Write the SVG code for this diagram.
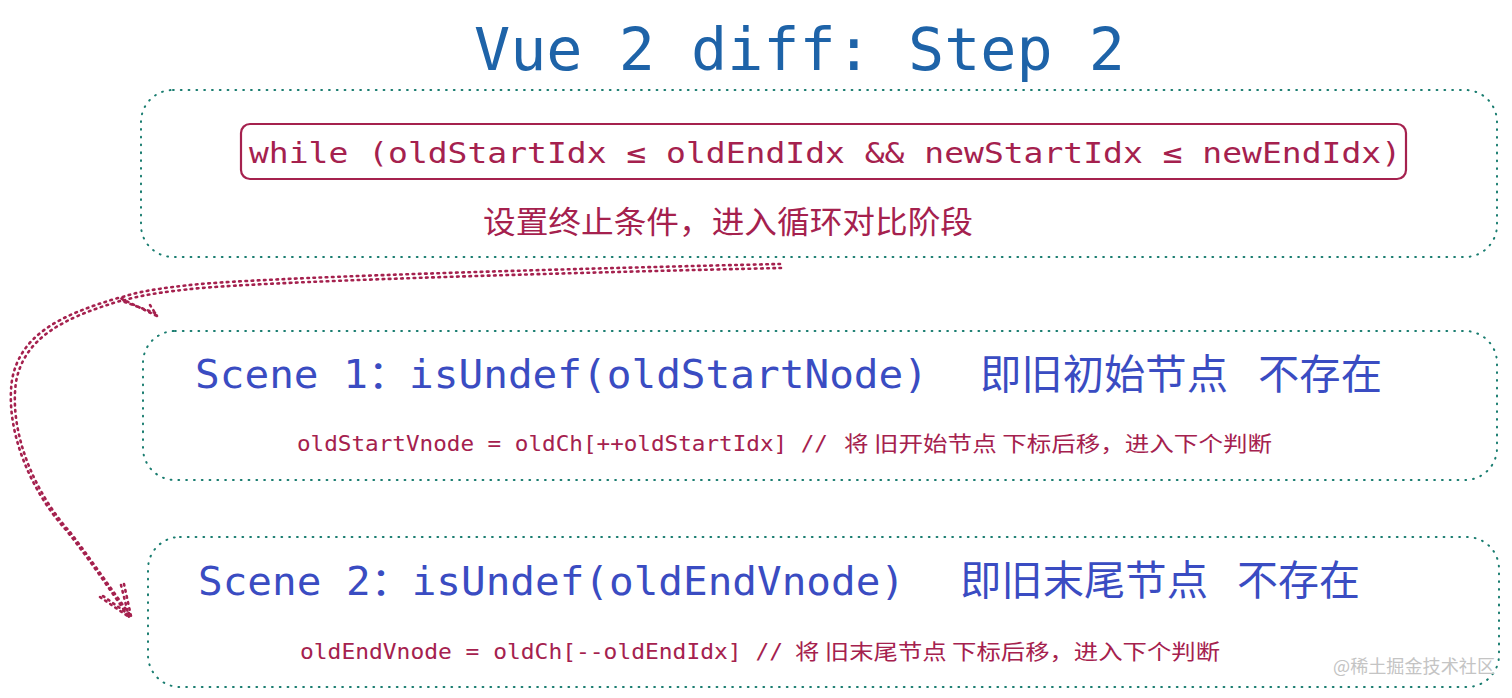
<svg xmlns="http://www.w3.org/2000/svg" width="1512" height="698" viewBox="0 0 1512 698">
<style>
.box{fill:none;stroke:#1a7d70;stroke-width:2;stroke-dasharray:0.8 7;stroke-linecap:round}
.arr{fill:none;stroke:#a5214e;stroke-width:2.6;stroke-dasharray:1.6 4.6;stroke-linecap:round}
.mono{font-family:"DejaVu Sans Mono","Liberation Mono","Noto Sans CJK SC",monospace}
.cjk{font-family:"Noto Sans CJK SC","Noto Sans",sans-serif}
.crim{fill:#a5214e}
.blue{fill:#3a4cc2}
</style>
<rect width="1512" height="698" fill="#ffffff"/>
<g id="title">
<text class="mono" x="474" y="70" font-size="58" fill="#1e63a8" textLength="651" lengthAdjust="spacingAndGlyphs">Vue 2 diff: Step 2</text>
</g>
<g id="loop">
<rect class="box" x="141" y="90" width="1356" height="167" rx="32"/>
<rect x="241" y="124" width="1165" height="55" rx="9" fill="none" stroke="#a5214e" stroke-width="2.2"/>
<text class="mono crim" x="249" y="163" font-size="29" textLength="1152" lengthAdjust="spacingAndGlyphs">while (oldStartIdx ≤ oldEndIdx &amp;&amp; newStartIdx ≤ newEndIdx)</text>
<text class="cjk crim" x="483" y="233" font-size="31" textLength="490" lengthAdjust="spacingAndGlyphs">设置终止条件，进入循环对比阶段</text>
</g>
<g id="scene1">
<rect class="box" x="143" y="331" width="1354" height="149" rx="32"/>
<text class="mono blue" x="195" y="388" font-size="39" textLength="733" lengthAdjust="spacingAndGlyphs">Scene 1：isUndef(oldStartNode)</text>
<text class="cjk blue" y="389" font-size="41"><tspan x="980" textLength="248" lengthAdjust="spacingAndGlyphs">即旧初始节点</tspan><tspan x="1258" textLength="124" lengthAdjust="spacingAndGlyphs">不存在</tspan></text>
<text class="mono crim" x="297" y="451" font-size="21" textLength="531" lengthAdjust="spacingAndGlyphs">oldStartVnode = oldCh[++oldStartIdx] //</text>
<text class="cjk crim" x="844" y="451" font-size="21" textLength="428" lengthAdjust="spacingAndGlyphs">将 旧开始节点 下标后移，进入下个判断</text>
</g>
<g id="scene2">
<rect class="box" x="148" y="537" width="1351" height="150" rx="32"/>
<text class="mono blue" x="198" y="595" font-size="39" textLength="707" lengthAdjust="spacingAndGlyphs">Scene 2：isUndef(oldEndVnode)</text>
<text class="cjk blue" y="595" font-size="41"><tspan x="960" textLength="248" lengthAdjust="spacingAndGlyphs">即旧末尾节点</tspan><tspan x="1237" textLength="123" lengthAdjust="spacingAndGlyphs">不存在</tspan></text>
<text class="mono crim" x="300" y="659" font-size="21" textLength="483" lengthAdjust="spacingAndGlyphs">oldEndVnode = oldCh[--oldEndIdx] //</text>
<text class="cjk crim" x="795" y="659" font-size="21" textLength="425" lengthAdjust="spacingAndGlyphs">将 旧末尾节点 下标后移，进入下个判断</text>
</g>
<g id="connectors">
<path class="arr" d="M780,264 C600,268 300,276 200,284 C160,288 135,292 120,298 L157,316"/>
<path class="arr" d="M781,268 C600,272 300,280 201,288 C160,292 137,296 122,301 L155,313"/>
<path class="arr" d="M150,305 L157,316"/>
<path class="arr" d="M118,298 C60,315 20,335 12,380 C5,430 30,490 66,530 C90,560 110,590 129,617"/>
<path class="arr" d="M120,301 C63,318 24,338 16,382 C9,432 34,492 70,532 C93,562 113,592 131,616"/>
<path class="arr" d="M100,597 L129,617 M121,585 L129,617"/>
<path class="arr" d="M103,596 L131,616 M124,584 L131,616"/>
</g>
<g id="watermark">
<text class="cjk" x="1333" y="673" font-size="18" fill="#c4c4c4" textLength="162" lengthAdjust="spacingAndGlyphs">@稀土掘金技术社区</text>
</g>
</svg>
